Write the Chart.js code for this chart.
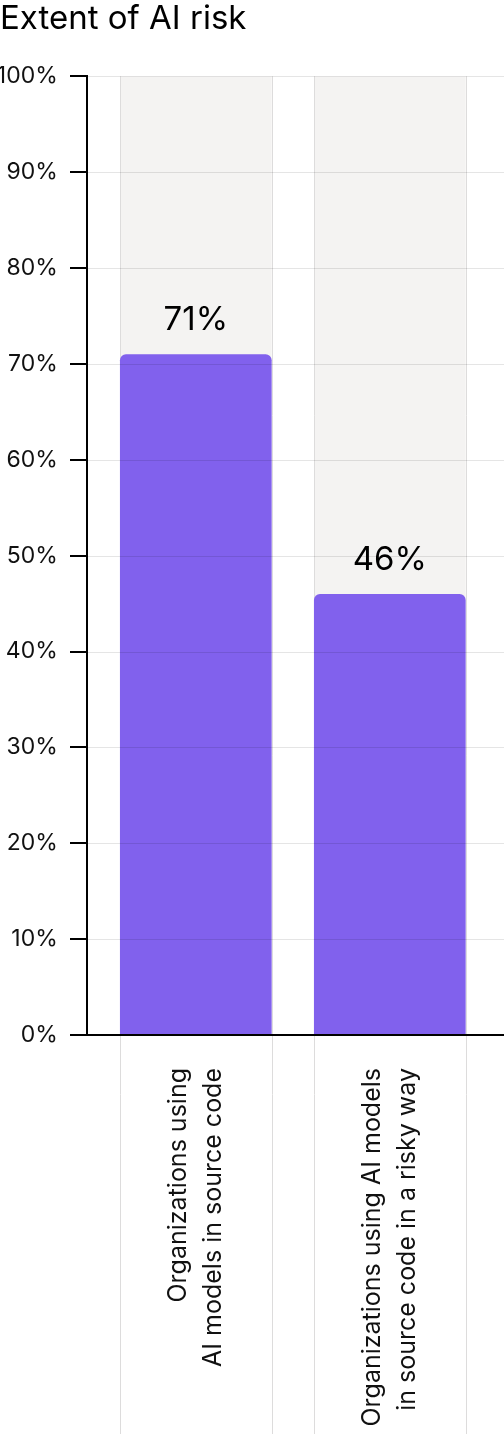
<!DOCTYPE html>
<html>
<head>
<meta charset="utf-8">
<script src="https://cdn.jsdelivr.net/npm/chart.js@4.4.1/dist/chart.umd.min.js"></script>
<style>
  html, body { margin: 0; padding: 0; background: #ffffff; }
  #wrap { width: 504px; height: 1434px; position: relative; }
</style>
</head>
<body>
<div id="wrap"><canvas id="c"></canvas></div>
<script>
// ---- data ----
const categories = [
  ['Organizations using', 'AI models in source code'],
  ['Organizations using AI models', 'in source code in a risky way']
];
const riskValues = [71, 46];
const fullValues = [100, 100];
const yTickValues = [0, 10, 20, 30, 40, 50, 60, 70, 80, 90, 100];
const titleText = 'Extent of AI risk';

// ---- style ----
const FONT = 'Inter, "Liberation Sans", Arial, sans-serif';
const PURPLE = '#8161ED';
const GRAY = '#F4F3F2';
const AXIS_X = 87;      // left axis line
const TICK_START = 70;  // left end of tick marks

const customDraw = {
  id: 'customDraw',
  beforeDatasetDraw(chart, args) {
    if (args.index !== 0) return;
    const ctx = chart.ctx;
    const area = chart.chartArea;
    const meta = chart.getDatasetMeta(1);
    ctx.save();
    ctx.strokeStyle = '#DDDCDC';
    ctx.lineWidth = 1;
    meta.data.forEach(el => {
      const half = el.width / 2;
      [el.x - half, el.x + half].forEach(x => {
        const px = Math.round(x) + 0.5;
        ctx.beginPath();
        ctx.moveTo(px, area.top);
        ctx.lineTo(px, chart.height);
        ctx.stroke();
      });
    });
    ctx.restore();
  },
  afterDatasetsDraw(chart) {
    const ctx = chart.ctx;
    const y = chart.scales.y;
    ctx.save();
    // horizontal grid lines (over bars)
    ctx.strokeStyle = 'rgba(0,0,0,0.10)';
    ctx.lineWidth = 1;
    yTickValues.forEach(v => {
      if (v === 0) return;
      const py = Math.round(y.getPixelForValue(v)) + 0.5;
      ctx.beginPath();
      ctx.moveTo(AXIS_X, py);
      ctx.lineTo(chart.width, py);
      ctx.stroke();
    });
    // tick marks
    ctx.strokeStyle = '#000';
    ctx.lineWidth = 2;
    yTickValues.forEach(v => {
      const py = Math.round(y.getPixelForValue(v));
      ctx.beginPath();
      ctx.moveTo(TICK_START, py);
      ctx.lineTo(v === 0 ? chart.width : AXIS_X, py);
      ctx.stroke();
    });
    // y axis line
    ctx.beginPath();
    ctx.moveTo(AXIS_X, Math.round(y.getPixelForValue(100)) - 1);
    ctx.lineTo(AXIS_X, Math.round(y.getPixelForValue(0)) + 1);
    ctx.stroke();
    // value labels
    const meta = chart.getDatasetMeta(0);
    ctx.fillStyle = '#000';
    ctx.font = '33px ' + FONT;
    ctx.textAlign = 'center';
    ctx.textBaseline = 'alphabetic';
    meta.data.forEach((el, i) => {
      ctx.fillText(riskValues[i] + '%', el.x, el.y - 24);
    });
    ctx.restore();
  }
};

new Chart(document.getElementById('c'), {
  type: 'bar',
  data: {
    labels: categories,
    datasets: [
      {
        data: riskValues,
        backgroundColor: PURPLE,
        borderRadius: { topLeft: 6, topRight: 6, bottomLeft: 0, bottomRight: 0 },
        borderSkipped: false,
        barPercentage: 0.782,
        categoryPercentage: 1,
        grouped: false
      },
      {
        data: fullValues,
        backgroundColor: GRAY,
        barPercentage: 0.782,
        categoryPercentage: 1,
        grouped: false
      }
    ]
  },
  options: {
    responsive: true,
    maintainAspectRatio: false,
    animation: false,
    devicePixelRatio: 1,
    layout: { padding: { left: 0, right: 17.2, top: 0, bottom: 0 } },
    plugins: {
      legend: { display: false },
      tooltip: { enabled: false },
      title: {
        display: true,
        text: titleText,
        align: 'start',
        color: '#000',
        font: { family: FONT, size: 33, weight: 'normal', lineHeight: 1.1 },
        padding: { top: 1, bottom: 39 }
      }
    },
    scales: {
      x: {
        grid: { display: false },
        border: { display: false },
        ticks: {
          color: '#111',
          font: { family: FONT, size: 25, lineHeight: 1.38 },
          maxRotation: 90,
          minRotation: 90,
          autoSkip: false,
          padding: 25,
          labelOffset: -17
        },
        afterFit(scale) { scale.height = 399; }
      },
      y: {
        min: 0,
        max: 100,
        grid: { display: false },
        border: { display: false },
        afterBuildTicks(scale) { scale.ticks = yTickValues.map(v => ({ value: v })); },
        ticks: {
          color: '#111',
          font: { family: FONT, size: 23 },
          padding: 33,
          callback: v => v + '%'
        },
        afterFit(scale) { scale.width = 98.8; }
      }
    }
  },
  plugins: [customDraw]
});
</script>
</body>
</html>
